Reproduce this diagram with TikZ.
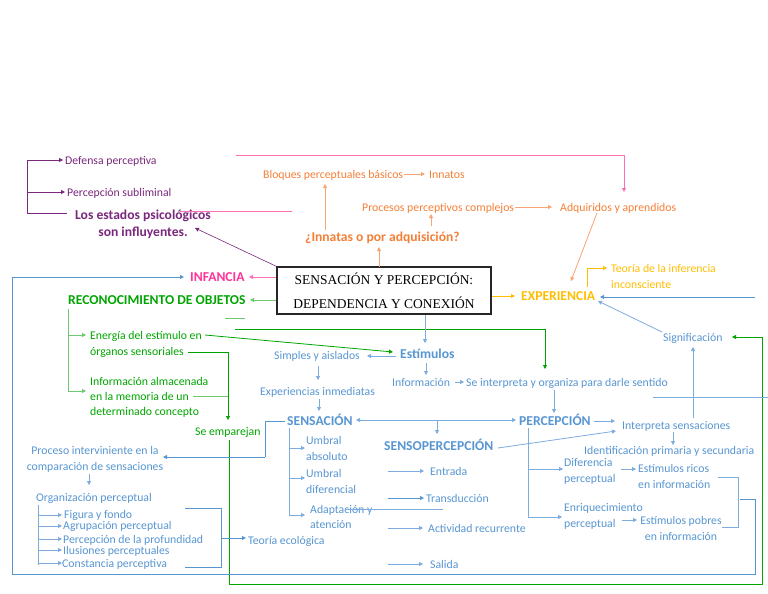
\documentclass[tikz,border=0pt]{standalone}
\usepackage{fontspec}
\setmainfont{Carlito}
\newfontfamily\boxserif{Liberation Serif}
\usetikzlibrary{arrows.meta}
\definecolor{cpur}{RGB}{122,40,125}
\definecolor{cpink}{RGB}{255,51,153}
\definecolor{cpinkl}{RGB}{255,110,185}
\definecolor{cgreen}{RGB}{0,165,0}
\definecolor{cgreenl}{RGB}{110,200,110}
\definecolor{corange}{RGB}{244,128,56}
\definecolor{corangel}{RGB}{247,165,115}
\definecolor{cgold}{RGB}{255,190,0}
\definecolor{cblue}{RGB}{88,150,210}
\definecolor{cbluel}{RGB}{125,172,222}
\tikzset{
  lbl/.style={anchor=base west, inner sep=0pt, font=\fontsize{11.75}{16}\selectfont},
  blbl/.style={anchor=base west, inner sep=0pt, font=\fontsize{13.6}{17}\selectfont\bfseries},
  arr/.style={-{Triangle[length=4pt,width=4pt]}},
  dbl/.style={{Triangle[length=4pt,width=4pt]}-{Triangle[length=4pt,width=4pt]}},
  pl/.style={draw=cpur, line width=0.8pt},
  pkl/.style={draw=cpinkl, line width=0.8pt},
  ol/.style={draw=corangel, line width=0.8pt},
  yl/.style={draw=cgold, line width=0.8pt},
  gl/.style={draw=cgreenl, line width=0.8pt},
  gd/.style={draw=cgreen, line width=0.8pt},
  bl/.style={draw=cbluel, line width=0.8pt},
  bd/.style={draw=cblue, line width=0.9pt},
}
\begin{document}
\begin{tikzpicture}[x=1pt,y=-1pt]
\useasboundingbox (0,0) rectangle (768,594);
\fill[white] (0,0) rectangle (768,594);

% ---------- main box
\node[draw=black!85, line width=1.3pt, minimum width=214pt, minimum height=47pt, inner sep=0pt,
      align=center, font=\boxserif\fontsize{13.5}{24}\selectfont] (box) at (384,290.5)
      {SENSACIÓN Y PERCEPCIÓN:\\DEPENDENCIA Y CONEXIÓN};

% ---------- purple
\node[lbl, text=cpur] (def) at (65,164) {Defensa perceptiva};
\node[lbl, text=cpur] (sub) at (67,196) {Percepción subliminal};
\node[blbl, text=cpur, anchor=base, align=center] (est) at (143,236.5) {Los estados psicológicos\\son influyentes.};
\coordinate (pb1) at (27,160);
\coordinate (pb2) at (27,213);
\draw[pl, arr] (pb1) -- (63,160);
\draw[pl] (pb1) -- (pb2) -- (67,213);
\draw[pl, arr] (27,192) -- (65,192);
\draw[draw=cpur, line width=0.6pt, arr] (box.north west) -- (195,228);

% ---------- pink
\draw[pkl] (236,155) -- (624,155);
\draw[pkl, arr] (624,155) -- (624,192);
\draw[pkl] (180,211) -- (292,211);
\node[blbl, text=cpink] (inf) at (190,281.5) {INFANCIA};
\draw[pkl, arr] (box.west |- 0,277) -- (249,277);

% ---------- orange
\node[lbl, text=corange] (blo) at (263,178) {Bloques perceptuales básicos};
\node[lbl, text=corange] (inn) at (429,178) {Innatos};
\node[lbl, text=corange] (pro) at (362,211) {Procesos perceptivos complejos};
\node[lbl, text=corange] (adq) at (560,211) {Adquiridos y aprendidos};
\node[blbl, text=corange] (inq) at (305,241.5) {¿Innatas o por adquisición?};
\draw[ol, arr] (404,174) -- (425,174);
\draw[ol, arr] (515,207) -- (552,207);
\draw[ol, arr] (325,230) -- (325,184);
\draw[ol, arr] (431,226) -- (431,214);
\draw[ol, arr] (379,267) -- (379,247);
\draw[ol, arr] (597,213) -- (571,281);

% ---------- gold
\draw[yl, arr] (box.east |- 0,296) -- (515,296);
\node[blbl, text=cgold] (exp) at (521,300.5) {EXPERIENCIA};
\node[lbl, text=cgold, align=left] (teo) at (611,288) {Teoría de la inferencia\\inconsciente};
\draw[yl] (587,287) -- (587,268);
\draw[yl, arr] (587,268) -- (607,268);

% ---------- green
\node[blbl, text=cgreen] (rec) at (68,304.5) {RECONOCIMIENTO DE OBJETOS};
\draw[gl, arr] (box.west |- 0,300) -- (250,300);
\draw[gl] (225,318) -- (245,318);
\draw[gd] (235,329) -- (545,329);
\draw[gd, arr] (545,329) -- (545,369);
\draw[gl] (68,309) -- (68,391);
\draw[gl, arr] (68,335) -- (86,335);
\draw[gl, arr] (68,391) -- (86,391);
\node[lbl, text=cgreen, align=left] (ene) at (90,355) {Energía del estímulo en\\órganos sensoriales};
\node[lbl, text=cgreen, align=left, font=\fontsize{11.75}{15}\selectfont] (alm) at (90,415) {Información almacenada\\en la memoria de un\\determinado concepto};
\node[lbl, text=cgreen] (emp) at (195,435) {Se emparejan};
\draw[gd, arr] (205,335) -- (393,352);
\draw[gd] (188,352) -- (228,352);
\draw[gd, arr] (228,352) -- (228,420);
\draw[gl] (193,396) -- (228,396);
\draw[gd] (229,440) -- (229,584) -- (762,584) -- (762,337);
\draw[gd, arr] (762,337) -- (732,337);

% ---------- blue: top part
\node[lbl, text=cblue] (sig) at (663,341) {Significación};
\node[blbl, text=cblue] (estm) at (400,358) {Estímulos};
\node[lbl, text=cblue] (sim) at (274,359) {Simples y aislados};
\node[lbl, text=cblue] (expi) at (260,395) {Experiencias inmediatas};
\node[blbl, text=cblue] (sen) at (287,425.5) {SENSACIÓN};
\node[lbl, text=cblue] (info) at (392,386) {Información};
\node[lbl, text=cblue] (sei) at (466,386) {Se interpreta y organiza para darle sentido};
\node[blbl, text=cblue] (per) at (519,425.5) {PERCEPCIÓN};
\node[blbl, text=cblue] (sp) at (384,450.5) {SENSOPERCEPCIÓN};
\node[lbl, text=cblue] (ins) at (622,429) {Interpreta sensaciones};
\node[lbl, text=cblue] (idp) at (584,454) {Identificación primaria y secundaria};

\draw[bl, arr] (box.south -| 425,0) -- (425,343);
\draw[bl, arr] (396,356) -- (367,356);
\draw[bl, arr] (318,366) -- (318,380);
\draw[bl, arr] (319,399) -- (319,411);
\draw[bl, arr] (426,363) -- (426,375);
\draw[bl, arr] (455,382) -- (464,382);
\draw[bl, arr] (554,390) -- (554,413);
\draw[bl, dbl] (356,420) -- (516,420);
\draw[bl, arr] (437,420) -- (437,434);
\draw[bl, arr] (498,448) -- (616,431);
\draw[bl, arr] (594,421) -- (615,421);
\draw[bl, arr] (673,432) -- (673,445);
\draw[bl, arr] (693,418) -- (693,347);
\draw[bl] (653,397) -- (768,397);
\draw[bl, arr] (662,332) -- (598,301);
\draw[bd, arr] (755,297) -- (600,297);

% ---------- blue: percepción branch
\node[lbl, text=cblue, align=left] (dif) at (564,482) {Diferencia\\perceptual};
\node[lbl, text=cblue, align=left] (ric) at (638,488) {Estímulos ricos\\en información};
\node[lbl, text=cblue, align=left] (enr) at (564,527) {Enriquecimiento\\perceptual};
\node[lbl, text=cblue, align=center, anchor=base] (pob) at (681,540) {Estímulos pobres\\en información};
\draw[bl] (528,428) -- (528,517);
\draw[bl, arr] (528,469) -- (563,469);
\draw[bl, arr] (528,517) -- (562,517);
\draw[bl, arr] (621,469) -- (636,469);
\draw[bl, arr] (622,520) -- (637,520);
\draw[bl] (718,477) -- (738,477) -- (738,527) -- (722,527);
\draw[bd] (740,499) -- (755,499) -- (755,574) -- (12,574) -- (12,277);
\draw[bd, arr] (12,277) -- (184,277);

% ---------- blue: sensación branch
\node[lbl, text=cblue, align=center, anchor=base] (pin) at (95,470) {Proceso interviniente en la\\comparación de sensaciones};
\node[lbl, text=cblue] (org) at (36,501) {Organización perceptual};
\node[lbl, text=cblue] (fig) at (64,518.5) {Figura y fondo};
\node[lbl, text=cblue] (agr) at (63,529.5) {Agrupación perceptual};
\node[lbl, text=cblue] (pro2) at (63,543) {Percepción de la profundidad};
\node[lbl, text=cblue] (ilu) at (63,554) {Ilusiones perceptuales};
\node[lbl, text=cblue] (con) at (62,567) {Constancia perceptiva};
\node[lbl, text=cblue] (teco) at (248,544) {Teoría ecológica};
\draw[bd] (285,421) -- (265,421) -- (265,457);
\draw[bd, arr] (265,457) -- (163,457);
\draw[bl, arr] (89,474) -- (89,485);
\draw[bl] (38,505) -- (38,565);
\foreach \yy in {515,526,539,550,563} { \draw[bl, arr] (38,\yy) -- (62,\yy); }
\draw[bd] (185,508) -- (221,508) -- (221,567) -- (185,567);
\draw[bd, arr] (221,538) -- (246,538);

\node[lbl, text=cblue, align=left] (uab) at (306,460) {Umbral\\absoluto};
\node[lbl, text=cblue, align=left] (udi) at (306,493) {Umbral\\diferencial};
\node[lbl, text=cblue, align=left, font=\fontsize{11.75}{15}\selectfont] (ada) at (310,528) {Adaptación y\\atención};
\draw[bl] (289,428) -- (289,515);
\draw[bl, arr] (289,448) -- (305,448);
\draw[bl, arr] (289,478) -- (305,478);
\draw[bl, arr] (289,515) -- (305,515);

\node[lbl, text=cblue] (ent) at (430,475) {Entrada};
\node[lbl, text=cblue] (tra) at (426,502) {Transducción};
\node[lbl, text=cblue] (act) at (428,532) {Actividad recurrente};
\node[lbl, text=cblue] (sal) at (430,568) {Salida};
\draw[bl, arr] (388,471) -- (424,471);
\draw[bd, arr] (388,498) -- (424,498);
\draw[bl, arr] (388,528) -- (423,528);
\draw[bl, arr] (388,564) -- (423,564);
\draw[bl] (345,509) -- (443,509);
\end{tikzpicture}
\end{document}
